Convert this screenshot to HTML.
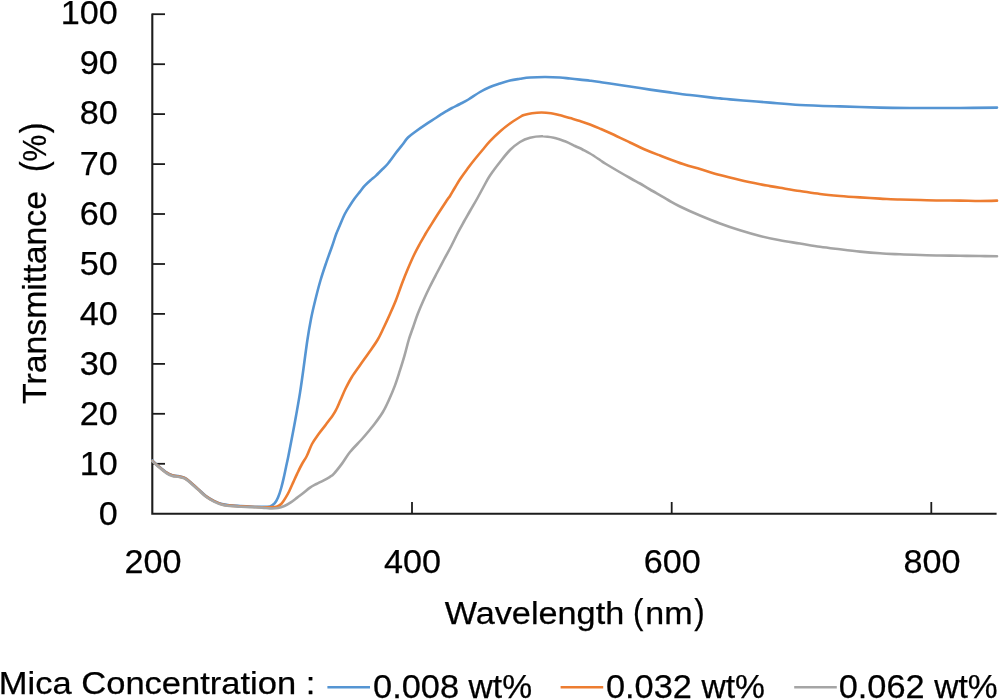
<!DOCTYPE html>
<html lang="en"><head><meta charset="utf-8"><title>Transmittance vs Wavelength</title>
<style>
html,body{margin:0;padding:0;background:#fff;}
body{width:999px;height:699px;overflow:hidden;}
svg{display:block;}
text{font-family:"Liberation Sans",sans-serif;fill:#000;stroke:#000;stroke-width:0.25px;}
.ax{stroke:#1c1c1c;stroke-width:2.1;fill:none;}
.tk{stroke:#1c1c1c;stroke-width:1.8;fill:none;}
.c{fill:none;stroke-width:2.6;stroke-linejoin:round;stroke-linecap:round;}
</style></head><body>
<svg width="999" height="699" viewBox="0 0 999 699">
<rect width="999" height="699" fill="#fff"/>
<path class="ax" d="M152.3,13.4 V513.7 H996.6"/>
<path class="tk" d="M152.3,463.8 H165"/>
<path class="tk" d="M152.3,413.8 H165"/>
<path class="tk" d="M152.3,363.9 H165"/>
<path class="tk" d="M152.3,313.9 H165"/>
<path class="tk" d="M152.3,264.0 H165"/>
<path class="tk" d="M152.3,214.0 H165"/>
<path class="tk" d="M152.3,164.1 H165"/>
<path class="tk" d="M152.3,114.1 H165"/>
<path class="tk" d="M152.3,64.2 H165"/>
<path class="tk" d="M152.3,14.2 H165"/>
<path class="tk" d="M412,513.7 V502"/>
<path class="tk" d="M671.7,513.7 V502"/>
<path class="tk" d="M931.3,513.7 V502"/>
<text x="117.8" y="525.4" font-size="33.2" text-anchor="end" textLength="19.0" lengthAdjust="spacingAndGlyphs">0</text>
<text x="117.8" y="475.3" font-size="33.2" text-anchor="end" textLength="38.0" lengthAdjust="spacingAndGlyphs">10</text>
<text x="117.8" y="425.2" font-size="33.2" text-anchor="end" textLength="38.0" lengthAdjust="spacingAndGlyphs">20</text>
<text x="117.8" y="375.0" font-size="33.2" text-anchor="end" textLength="38.0" lengthAdjust="spacingAndGlyphs">30</text>
<text x="117.8" y="324.9" font-size="33.2" text-anchor="end" textLength="38.0" lengthAdjust="spacingAndGlyphs">40</text>
<text x="117.8" y="274.8" font-size="33.2" text-anchor="end" textLength="38.0" lengthAdjust="spacingAndGlyphs">50</text>
<text x="117.8" y="224.7" font-size="33.2" text-anchor="end" textLength="38.0" lengthAdjust="spacingAndGlyphs">60</text>
<text x="117.8" y="174.6" font-size="33.2" text-anchor="end" textLength="38.0" lengthAdjust="spacingAndGlyphs">70</text>
<text x="117.8" y="124.4" font-size="33.2" text-anchor="end" textLength="38.0" lengthAdjust="spacingAndGlyphs">80</text>
<text x="117.8" y="74.3" font-size="33.2" text-anchor="end" textLength="38.0" lengthAdjust="spacingAndGlyphs">90</text>
<text x="117.8" y="24.2" font-size="33.2" text-anchor="end" textLength="57.0" lengthAdjust="spacingAndGlyphs">100</text>
<text x="152.9" y="573.3" font-size="33.2" text-anchor="middle" textLength="57.0" lengthAdjust="spacingAndGlyphs">200</text>
<text x="412.6" y="573.3" font-size="33.2" text-anchor="middle" textLength="57.0" lengthAdjust="spacingAndGlyphs">400</text>
<text x="672.3" y="573.3" font-size="33.2" text-anchor="middle" textLength="57.0" lengthAdjust="spacingAndGlyphs">600</text>
<text x="931.9" y="573.3" font-size="33.2" text-anchor="middle" textLength="57.0" lengthAdjust="spacingAndGlyphs">800</text>
<text x="444.7" y="624" font-size="30.8" textLength="179.5" lengthAdjust="spacingAndGlyphs">Wavelength</text>
<text x="632.9" y="624.4" font-size="35.5" textLength="10.4" lengthAdjust="spacingAndGlyphs">(</text><text x="645.3" y="624" font-size="30.8" textLength="47.3" lengthAdjust="spacingAndGlyphs">nm</text><text x="694.3" y="624.4" font-size="35.5" textLength="10.4" lengthAdjust="spacingAndGlyphs">)</text>
<g transform="translate(46.2,404) rotate(-90)"><text x="0" y="0" font-size="33.5" textLength="213" lengthAdjust="spacingAndGlyphs">Transmittance</text><text x="232.1" y="0" font-size="36.5" textLength="10.6" lengthAdjust="spacingAndGlyphs">(</text><text x="242.4" y="0" font-size="33.5" textLength="26.8" lengthAdjust="spacingAndGlyphs">%</text><text x="270.8" y="0" font-size="36.5" textLength="10.6" lengthAdjust="spacingAndGlyphs">)</text></g>
<path class="c" stroke="#5595D3" d="M152.3,460.5 C153.2,461.4 155.7,463.8 158,465.7 C160.3,467.6 163.6,470.5 166,472.1 C168.4,473.7 170.4,474.6 172.4,475.3 C174.4,476.0 176.0,475.7 178,476.1 C180.0,476.5 182.4,476.8 184.4,477.7 C186.4,478.6 187.7,479.8 190,481.7 C192.3,483.6 195.3,486.5 198,488.9 C200.7,491.3 203.3,494.1 206,496.1 C208.7,498.1 211.3,499.6 214,500.9 C216.7,502.2 219.3,503.4 222,504.1 C224.7,504.8 227.0,505.0 230,505.3 C233.0,505.6 236.7,505.8 240,506 C243.3,506.2 246.3,506.4 250,506.5 C253.7,506.6 258.7,506.9 262,506.9 C265.3,506.9 267.9,507.0 270,506.4 C272.1,505.8 273.5,504.7 274.8,503.2 C276.1,501.7 276.9,500.1 278,497.6 C279.1,495.1 280.3,491.2 281.2,488 C282.1,484.8 282.8,481.9 283.6,478.4 C284.4,474.9 285.2,470.9 286,467.2 C286.8,463.5 287.5,460.5 288.4,456 C289.3,451.5 290.2,446.7 291.5,440 C292.8,433.3 294.6,423.9 296,416 C297.4,408.1 298.7,401.1 300,392.9 C301.3,384.7 302.5,375.8 303.7,367 C304.9,358.2 306.2,348.0 307.4,340 C308.6,332.0 309.7,325.7 311,319 C312.3,312.3 313.7,306.5 315.3,300 C316.9,293.5 318.8,286.1 320.6,280 C322.4,273.9 324.1,268.9 326,263.3 C327.9,257.7 330.3,251.4 332,246.5 C333.7,241.6 334.9,237.4 336.2,234 C337.5,230.6 338.2,229.3 339.6,226 C341.0,222.7 343.1,217.3 344.8,214 C346.5,210.7 348.0,208.5 349.6,206 C351.2,203.5 352.7,201.2 354.4,198.8 C356.1,196.4 358.3,193.8 360,191.6 C361.7,189.4 362.9,187.6 364.8,185.6 C366.7,183.6 369.3,181.3 371.2,179.6 C373.1,177.9 374.3,177.2 376,175.6 C377.7,174.0 379.7,171.9 381.65,170 C383.6,168.1 385.2,166.9 387.6,164 C390.0,161.1 393.5,156.0 396,152.8 C398.5,149.6 400.4,147.4 402.4,144.8 C404.4,142.2 405.7,139.8 408,137.5 C410.3,135.2 413.3,133.2 416,131.2 C418.7,129.2 421.3,127.4 424,125.6 C426.7,123.8 429.3,122.1 432,120.4 C434.7,118.7 437.6,116.7 440,115.2 C442.4,113.7 444.4,112.4 446.4,111.2 C448.4,110.0 449.7,109.2 452,108 C454.3,106.8 457.3,105.4 460,104 C462.7,102.6 465.1,101.5 468.4,99.5 C471.7,97.5 476.4,94.1 480,92 C483.6,89.9 486.7,88.4 490,87 C493.3,85.6 496.7,84.6 500,83.5 C503.3,82.4 506.7,81.3 510,80.5 C513.3,79.7 516.7,79.3 520,78.8 C523.3,78.3 525.8,77.8 530,77.5 C534.2,77.2 540.0,77.0 545,77 C550.0,77.0 555.8,77.2 560,77.5 C564.2,77.8 566.7,78.2 570,78.5 C573.3,78.8 576.7,79.2 580,79.6 C583.3,80.0 586.7,80.3 590,80.7 C593.3,81.1 596.7,81.5 600,82 C603.3,82.5 605.0,82.8 610,83.5 C615.0,84.2 623.3,85.5 630,86.5 C636.7,87.5 643.3,88.6 650,89.6 C656.7,90.6 663.3,91.5 670,92.4 C676.7,93.3 683.3,94.2 690,95 C696.7,95.8 705.0,96.8 710,97.4 C715.0,98.0 716.7,98.1 720,98.4 C723.3,98.7 725.0,99.0 730,99.4 C735.0,99.8 743.3,100.5 750,101 C756.7,101.5 761.7,101.9 770,102.6 C778.3,103.3 788.3,104.4 800,105 C811.7,105.6 826.7,106.0 840,106.4 C853.3,106.8 866.7,107.3 880,107.6 C893.3,107.9 906.7,107.9 920,108 C933.3,108.1 947.2,108.1 960,108 C972.8,107.9 990.8,107.7 997,107.6"/>
<path class="c" stroke="#ED7D31" d="M152.3,460.8 C153.2,461.7 155.7,464.1 158,466 C160.3,467.9 163.6,470.8 166,472.4 C168.4,474.0 170.4,474.9 172.4,475.6 C174.4,476.3 176.0,476.0 178,476.4 C180.0,476.8 182.4,477.1 184.4,478 C186.4,478.9 187.7,480.1 190,482 C192.3,483.9 195.3,486.8 198,489.2 C200.7,491.6 203.3,494.4 206,496.4 C208.7,498.4 211.3,499.9 214,501.2 C216.7,502.5 219.3,503.7 222,504.4 C224.7,505.1 227.0,505.3 230,505.6 C233.0,505.9 236.7,506.1 240,506.3 C243.3,506.5 246.3,506.7 250,506.8 C253.7,506.9 258.7,507.1 262,507.2 C265.3,507.3 267.6,507.3 270,507.2 C272.4,507.1 274.5,507.3 276.4,506.8 C278.3,506.3 279.7,505.4 281.2,504 C282.7,502.6 283.9,500.5 285.2,498.4 C286.5,496.3 287.9,493.9 289.2,491.2 C290.5,488.5 291.9,485.3 293.2,482.4 C294.5,479.5 295.7,476.7 297.2,473.6 C298.7,470.5 300.4,466.9 302,464 C303.6,461.1 305.1,459.3 306.8,456 C308.5,452.7 310.0,447.8 312,444 C314.0,440.2 316.7,436.8 319,433.5 C321.3,430.2 323.7,427.6 326,424.5 C328.3,421.4 331.2,417.6 333,415 C334.8,412.4 335.2,411.5 336.5,409 C337.8,406.5 339.0,403.4 340.5,400 C342.0,396.6 343.7,392.3 345.6,388.5 C347.5,384.7 349.3,381.1 351.7,377.2 C354.1,373.3 357.2,369.2 360,365.2 C362.8,361.2 365.6,357.4 368.5,353.2 C371.4,349.0 374.9,344.4 377.5,340 C380.1,335.6 381.9,331.3 384,327 C386.1,322.7 388.0,318.5 390,314 C392.0,309.5 394.0,305.1 396,300 C398.0,294.9 400.0,288.8 402,283.5 C404.0,278.2 406.0,273.2 408,268.5 C410.0,263.8 412.0,259.2 414,255 C416.0,250.8 418.1,247.0 420,243.5 C421.9,240.0 423.9,236.6 425.4,234 C426.9,231.4 427.3,230.8 429.1,228 C430.9,225.2 433.0,221.7 436,217 C439.0,212.3 444.8,203.5 447.1,200 C449.4,196.5 448.7,198.1 450,196 C451.3,193.9 453.3,190.3 455,187.5 C456.7,184.7 458.0,182.3 460,179.3 C462.0,176.3 464.6,172.7 467,169.5 C469.4,166.3 471.6,163.2 474.2,160 C476.8,156.8 479.9,153.1 482.5,150 C485.1,146.9 487.1,144.3 490,141.2 C492.9,138.1 496.7,134.4 500,131.5 C503.3,128.6 506.7,125.9 510,123.5 C513.3,121.1 517.7,118.4 520,117 C522.3,115.6 522.0,115.6 524,115 C526.0,114.4 529.1,113.6 532,113.2 C534.9,112.8 538.3,112.5 541.5,112.5 C544.7,112.5 548.1,112.8 551,113.2 C553.9,113.6 555.8,114.2 559,115 C562.2,115.8 566.5,117.1 570,118.1 C573.5,119.1 576.7,119.9 580,121 C583.3,122.1 586.7,123.2 590,124.5 C593.3,125.8 596.7,127.2 600,128.6 C603.3,130.0 605.0,130.7 610,133 C615.0,135.3 624.0,139.7 630,142.5 C636.0,145.3 641.0,147.8 646,150 C651.0,152.2 653.8,153.2 660,155.5 C666.2,157.8 676.3,161.8 683,164 C689.7,166.2 693.8,167.2 700,169 C706.2,170.8 713.3,173.2 720,175 C726.7,176.8 733.3,178.4 740,180 C746.7,181.6 755.0,183.3 760,184.3 C765.0,185.3 766.7,185.5 770,186.1 C773.3,186.7 775.0,187.0 780,187.8 C785.0,188.6 793.3,190.0 800,191 C806.7,192.0 813.3,193.2 820,194 C826.7,194.8 833.3,195.4 840,196 C846.7,196.6 853.3,197.0 860,197.4 C866.7,197.8 873.3,198.2 880,198.6 C886.7,198.9 893.3,199.3 900,199.5 C906.7,199.7 913.3,199.8 920,200 C926.7,200.2 933.3,200.4 940,200.5 C946.7,200.6 953.3,200.5 960,200.6 C966.7,200.7 973.8,201.0 980,201 C986.2,201.0 994.2,200.7 997,200.6"/>
<path class="c" stroke="#A5A5A5" d="M152.3,461.2 C153.2,462.1 155.7,464.5 158,466.4 C160.3,468.3 163.6,471.2 166,472.8 C168.4,474.4 170.4,475.3 172.4,476 C174.4,476.7 176.0,476.4 178,476.8 C180.0,477.2 182.4,477.5 184.4,478.4 C186.4,479.3 187.7,480.5 190,482.4 C192.3,484.3 195.3,487.2 198,489.6 C200.7,492.0 203.3,494.8 206,496.8 C208.7,498.8 211.3,500.3 214,501.6 C216.7,502.9 219.3,504.1 222,504.8 C224.7,505.5 227.0,505.7 230,506 C233.0,506.3 236.7,506.5 240,506.7 C243.3,506.9 246.3,507.1 250,507.2 C253.7,507.3 258.7,507.4 262,507.6 C265.3,507.8 267.3,508.3 270,508.4 C272.7,508.5 275.6,508.4 278,508 C280.4,507.6 282.3,506.9 284.4,506 C286.5,505.1 288.7,503.8 290.8,502.4 C292.9,501.0 295.1,499.2 297.2,497.6 C299.3,496.0 301.5,494.5 303.6,492.8 C305.7,491.1 307.9,489.1 310,487.6 C312.1,486.1 314.3,485.1 316.4,484 C318.5,482.9 320.5,482.0 322.8,480.8 C325.1,479.6 328.1,478.0 330,476.8 C331.9,475.6 332.0,475.8 334,473.6 C336.0,471.4 339.3,467.2 342,463.6 C344.7,460.0 346.8,455.9 350,452 C353.2,448.1 358.1,443.3 361.1,440 C364.1,436.7 365.8,434.7 368,432 C370.2,429.3 372.0,427.3 374.5,424 C377.0,420.7 380.5,416.0 382.9,412 C385.3,408.0 386.9,404.4 388.9,400 C390.9,395.6 393.1,390.4 394.9,385.6 C396.7,380.8 398.1,376.2 399.7,371.2 C401.3,366.2 403.0,360.8 404.5,355.6 C406.0,350.4 407.3,344.7 408.7,340 C410.1,335.3 411.5,331.8 413,327.5 C414.5,323.2 415.9,318.6 417.7,314 C419.5,309.4 421.6,304.5 423.6,300 C425.6,295.5 427.5,291.5 429.7,287 C431.9,282.5 434.5,277.6 436.9,273 C439.3,268.4 441.6,264.0 444,259.5 C446.4,255.0 449.0,250.5 451.3,246 C453.6,241.5 455.9,236.6 458,232.5 C460.1,228.4 462.0,225.1 464,221.5 C466.0,217.9 467.8,214.9 470,211 C472.2,207.1 475.2,202.2 477.5,198 C479.8,193.8 481.9,189.8 484,186 C486.1,182.2 487.3,179.5 490,175.5 C492.7,171.5 496.7,166.2 500,162 C503.3,157.8 506.7,153.3 510,150 C513.3,146.7 516.7,144.1 520,142 C523.3,139.9 526.2,138.7 530,137.7 C533.8,136.7 538.8,136.1 543,136.2 C547.2,136.2 551.3,137.2 555,138 C558.7,138.8 561.7,140.0 565,141.3 C568.3,142.6 572.1,144.6 575,146 C577.9,147.4 580.0,148.2 582.5,149.5 C585.0,150.8 587.1,151.8 590,153.5 C592.9,155.2 597.3,158.2 600,160 C602.7,161.8 601.0,161.0 606,164 C611.0,167.0 624.3,174.8 630,178 C635.7,181.2 636.7,181.6 640,183.5 C643.3,185.4 645.3,186.8 650,189.5 C654.7,192.2 663.1,197.2 668.1,200 C673.1,202.8 674.7,203.9 680,206.5 C685.3,209.1 693.3,212.7 700,215.5 C706.7,218.3 713.3,221.0 720,223.5 C726.7,226.0 733.3,228.2 740,230.3 C746.7,232.4 753.3,234.3 760,236 C766.7,237.7 773.3,239.1 780,240.3 C786.7,241.6 793.3,242.4 800,243.5 C806.7,244.6 813.3,245.8 820,246.8 C826.7,247.8 833.3,248.5 840,249.3 C846.7,250.1 853.3,250.9 860,251.6 C866.7,252.3 873.3,252.9 880,253.3 C886.7,253.8 893.3,254.0 900,254.3 C906.7,254.6 913.3,254.8 920,255 C926.7,255.2 933.3,255.4 940,255.5 C946.7,255.6 953.3,255.7 960,255.8 C966.7,255.9 973.8,255.9 980,256 C986.2,256.1 994.2,256.2 997,256.3"/>
<text x="-1.2" y="693.8" font-size="31" textLength="316.5" lengthAdjust="spacingAndGlyphs">Mica Concentration :</text>
<path d="M327.4,687.2 H370.0" stroke="#5595D3" stroke-width="2.6" fill="none"/>
<text x="373.1" y="698" font-size="33.2" textLength="86" lengthAdjust="spacingAndGlyphs">0.008</text>
<text x="468.6" y="698" font-size="33.2" textLength="63.5" lengthAdjust="spacingAndGlyphs">wt%</text>
<path d="M560.6,687.2 H603.2" stroke="#ED7D31" stroke-width="2.6" fill="none"/>
<text x="605.9" y="698" font-size="33.2" textLength="86" lengthAdjust="spacingAndGlyphs">0.032</text>
<text x="701.4" y="698" font-size="33.2" textLength="63.5" lengthAdjust="spacingAndGlyphs">wt%</text>
<path d="M794.2,687.2 H836.8000000000001" stroke="#A5A5A5" stroke-width="2.6" fill="none"/>
<text x="838.7" y="698" font-size="33.2" textLength="86" lengthAdjust="spacingAndGlyphs">0.062</text>
<text x="934.2" y="698" font-size="33.2" textLength="63.5" lengthAdjust="spacingAndGlyphs">wt%</text>
</svg>
</body></html>
